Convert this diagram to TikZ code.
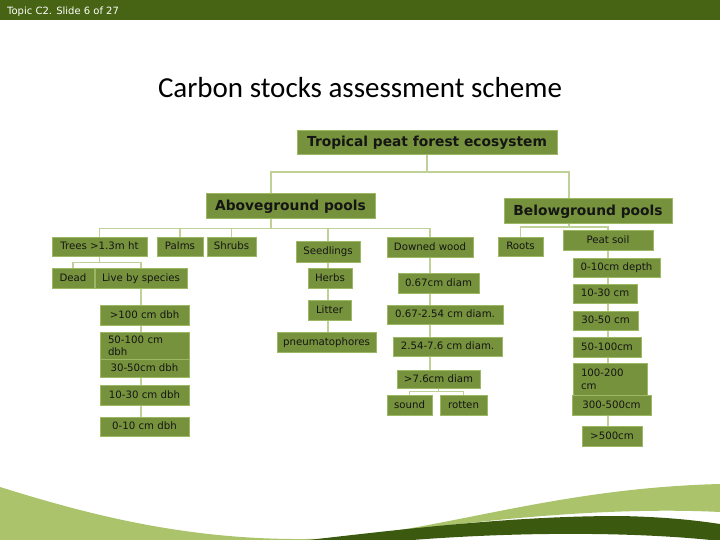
\documentclass[tikz,border=0pt]{standalone}
\usepackage{fontspec}
\setmainfont{DejaVu Sans}
\newfontfamily\titlefont{Carlito}
\usetikzlibrary{backgrounds}
\definecolor{barGreen}{HTML}{476314}
\definecolor{boxFill}{HTML}{76923C}
\definecolor{boxLine}{HTML}{9DB865}
\definecolor{connC}{HTML}{BFD197}
\definecolor{lightSw}{HTML}{ABC46B}
\definecolor{darkSw}{HTML}{3B5A0F}
\definecolor{txt}{HTML}{151515}
\begin{document}
\begin{tikzpicture}[x=1pt,y=-1pt,
 box/.style={fill=boxFill,draw=boxLine,line width=1pt,inner sep=0pt,text=txt,font=\fontsize{10.2}{11.5}\selectfont},
 sbox/.style={box,text height=8.5pt,text depth=2pt},
 hbox/.style={box,font=\fontsize{13.8}{16}\bfseries\selectfont,text height=10.5pt,text depth=3pt},
 rect/.style n args={4}{at={({(#1+#3)/2},{(#2+#4)/2})},minimum width={#3-#1},minimum height={#4-#2}},
 conn/.style={draw=connC,line width=1.2pt}]
\useasboundingbox (0,0) rectangle (720,540);
% bottom swooshes
\fill[lightSw] (0,487) .. controls (90,515) and (200,545) .. (340,538)
  .. controls (450,528) and (560,488) .. (720,484) -- (720,512)
  .. controls (600,506) and (460,522) .. (330,541) -- (0,541) -- cycle;
\fill[darkSw] (300,541) .. controls (420,527) and (520,516) .. (620,516)
  .. controls (670,517) and (700,521) .. (720,524) -- (720,541)
  .. controls (640,532) and (520,531) .. (400,541) -- cycle;
% top bar
\fill[barGreen] (0,0) rectangle (720,20.5);
\node[anchor=base west,text=white,font=\fontsize{10}{11}\selectfont,inner sep=0pt] (bartxt) at (7,14.5) {Topic C2. Slide 6 of 27};
\node[anchor=base,font=\titlefont\fontsize{29}{32}\selectfont,inner sep=0pt] (title) at (360,98) {Carbon stocks assessment scheme};
% boxes
\node[hbox,rect={297}{131}{557}{155}] (top) {Tropical peat forest ecosystem};
\node[hbox,rect={206}{194}{375}{219}] (ag) {Aboveground pools};
\node[hbox,rect={504}{199}{672}{224}] (bg) {Belowground pools};
\node[sbox,rect={52}{237}{147}{256}] (trees) {Trees >1.3m ht};
\node[sbox,rect={157}{237}{203}{256}] (palms) {Palms};
\node[sbox,rect={207}{237}{256}{256}] (shrubs) {Shrubs};
\node[sbox,rect={296}{241}{360}{262}] (seed) {Seedlings};
\node[sbox,rect={387}{237}{473}{257}] (downed) {Downed wood};
\node[sbox,rect={498}{237}{543}{256}] (roots) {Roots};
\node[sbox,rect={563}{231}{653}{250}] (peat) {Peat soil};
\node[sbox,rect={52}{268}{94}{288}] (dead) {Dead};
\node[sbox,rect={95}{268}{187}{288}] (live) {Live by species};
\node[sbox,rect={100}{305}{189}{325}] (d100) {>100 cm dbh};
\node[box,rect={100}{332}{189}{360},text width=73pt,align=left] (d50) {50-100 cm\\dbh};
\node[sbox,rect={100}{359}{189}{377}] (d30) {30-50cm dbh};
\node[sbox,rect={100}{385}{189}{405}] (d10) {10-30 cm dbh};
\node[sbox,rect={100}{417}{189}{436}] (d0) {0-10 cm dbh};
\node[sbox,rect={308}{268}{352}{288}] (herbs) {Herbs};
\node[sbox,rect={308}{300}{351}{320}] (litter) {Litter};
\node[sbox,rect={277}{332}{376}{352}] (pneu) {pneumatophores};
\node[sbox,rect={398}{273}{479}{293}] (w1) {0.67cm diam};
\node[sbox,rect={387}{305}{503}{324}] (w2) {0.67-2.54 cm diam.};
\node[sbox,rect={393}{337}{502}{356}] (w3) {2.54-7.6 cm diam.};
\node[sbox,rect={397}{370}{480}{388}] (w4) {>7.6cm diam};
\node[sbox,rect={387}{395}{432}{415}] (sound) {sound};
\node[sbox,rect={440}{395}{487}{415}] (rotten) {rotten};
\node[sbox,rect={573}{258}{660}{277}] (p1) {0-10cm depth};
\node[sbox,rect={573}{284}{637}{303}] (p2) {10-30 cm};
\node[sbox,rect={573}{311}{638}{330}] (p3) {30-50 cm};
\node[sbox,rect={573}{337}{641}{357}] (p4) {50-100cm};
\node[box,rect={573}{363}{647}{395},text width=58pt,align=left,font=\fontsize{10.2}{13}\selectfont] (p5) {100-200\\cm};
\node[sbox,rect={572}{395}{651}{415}] (p6) {300-500cm};
\node[sbox,rect={582}{426}{642}{446}] (p7) {>500cm};
% connectors
\begin{scope}[on background layer]
\coordinate (tA) at (271,172);
\coordinate (tB) at (569,172);
\coordinate (agJ) at (271,228.5);
\coordinate (bgJ) at (569,227);
\draw[conn] (top.south) |- (tA) -- (agJ);
\draw[conn] (top.south) |- (tB) -- (bgJ);
\foreach \n in {trees,palms,shrubs,seed,downed} \draw[conn] (agJ) -| (\n.north);
\draw[conn] (bgJ) -| (roots.north);
\draw[conn] (bgJ) -| (peat.north);
\coordinate (trJ) at (99.5,262.5);
\draw[conn] (trees.south) -- (trJ);
\draw[conn] (trJ) -| (dead.north);
\draw[conn] (trJ) -| (live.north);
\draw[conn] (live.south) -- (live.south |- d0.north);
\draw[conn] (seed.south) -- (seed.south |- pneu.north);
\draw[conn] (downed.south) -- (downed.south |- w4.north);
\coordinate (wJ) at (438.5,391.5);
\draw[conn] (w4.south) -- (wJ);
\draw[conn] (wJ) -| (sound.north);
\draw[conn] (wJ) -| (rotten.north);
\draw[conn] (peat.south) -- (peat.south |- p7.north);
\end{scope}
\end{tikzpicture}
\end{document}
